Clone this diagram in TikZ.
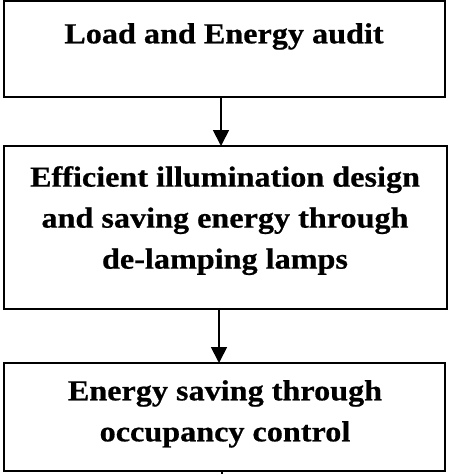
\documentclass[tikz,border=0pt]{standalone}
\usepackage{fontspec}
\setmainfont{Liberation Serif}
\newfontfamily\widefont[FakeStretch=1.11,FakeBold=0.6]{Liberation Serif}
\usetikzlibrary{arrows.meta}
\begin{document}
\begin{tikzpicture}[x=1pt,y=-1pt,
  boxframe/.style={draw=black,line width=1.6pt},
  boxtext/.style={inner sep=0pt,align=center,font=\widefont\fontsize{29}{41}\selectfont\bfseries},
  flowarrow/.style={draw=black,line width=1.8pt,-{Triangle[width=16pt,length=16pt]}}]
\useasboundingbox[fill=white] (0,0) rectangle (474,474);
\path[boxframe] (4,1) rectangle (445,97);
\coordinate (b1s) at (221,97);
\coordinate (b2n) at (221,146);
\path[boxframe] (4,146) rectangle (447,309);
\coordinate (b2s) at (219,309);
\coordinate (b3n) at (219,363);
\path[boxframe] (4,363) rectangle (445,471);
\coordinate (b3s) at (222,471);
\coordinate (endpt) at (222,476);
\node[boxtext,anchor=north] (t1) at (224,23) {Load and Energy audit};
\node[boxtext,anchor=north] (t2) at (225,166) {Efficient illumination design\\and saving energy through\\de-lamping lamps};
\node[boxtext,anchor=north] (t3) at (225,380) {Energy saving through\\occupancy control};
\draw[flowarrow] (b1s) -- (b2n);
\draw[flowarrow] (b2s) -- (b3n);
\draw[line width=1.8pt] (b3s) -- (endpt);
\end{tikzpicture}
\end{document}
